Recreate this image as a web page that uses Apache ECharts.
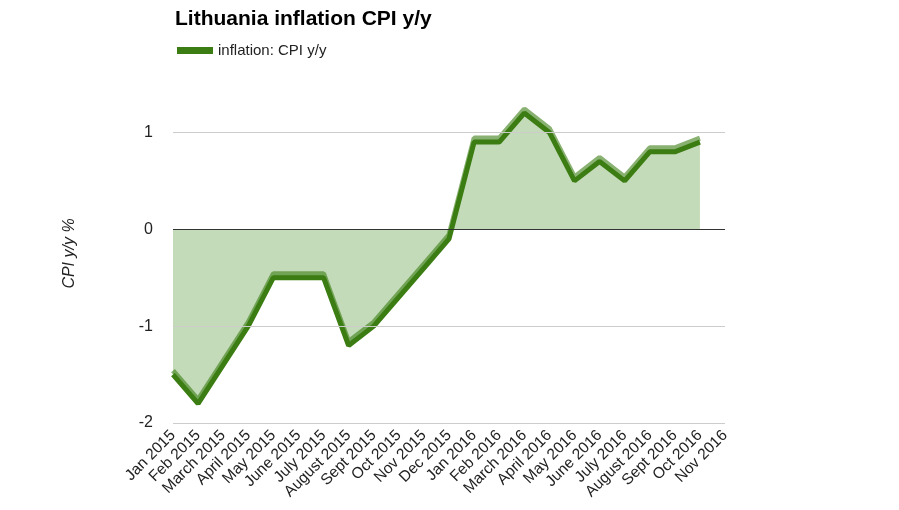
<!DOCTYPE html>
<html><head><meta charset="utf-8">
<script src="https://cdn.jsdelivr.net/npm/echarts@6/dist/echarts.min.js"></script>
<style>body{margin:0;background:#fff}#c{width:899px;height:510px}</style>
</head><body><div id="c"></div>
<script>
const categories = ["Jan 2015","Feb 2015","March 2015","April 2015","May 2015","June 2015","July 2015","August 2015","Sept 2015","Oct 2015","Nov 2015","Dec 2015","Jan 2016","Feb 2016","March 2016","April 2016","May 2016","June 2016","July 2016","August 2016","Sept 2016","Oct 2016","Nov 2016"];
const inflation = [-1.5,-1.8,-1.4,-1.0,-0.5,-0.5,-0.5,-1.2,-1.0,-0.7,-0.4,-0.1,0.9,0.9,1.2,1.0,0.5,0.7,0.5,0.8,0.8,0.9,null];
const gridValues = [-2,-1,1];
const chart = echarts.init(document.getElementById('c'));
chart.setOption({
  animation:false,
  title:{text:'Lithuania inflation CPI y/y',left:170,top:4,textStyle:{fontFamily:'Liberation Sans, Arial',fontSize:21,fontWeight:'bold',color:'#000'}},
  legend:{left:172,top:38,itemWidth:36,itemHeight:7,icon:'rect',textStyle:{fontFamily:'Liberation Sans, Arial',fontSize:15,color:'#222'},data:['inflation: CPI y/y']},
  grid:{left:173,right:174,top:84,bottom:87},
  xAxis:{type:'category',boundaryGap:false,data:categories,
    axisLine:{show:false},axisTick:{show:false},
    axisLabel:{rotate:45,interval:0,fontFamily:'Liberation Sans, Arial',fontSize:15.5,color:'#222',margin:10}},
  yAxis:{type:'value',min:-2,max:1.5,interval:1,
    name:'CPI y/y %',nameLocation:'middle',nameGap:95,nameTextStyle:{fontFamily:'Liberation Sans, Arial',fontSize:16,fontStyle:'italic',color:'#222'},
    axisLine:{show:false},axisTick:{show:false},splitLine:{show:false},
    axisLabel:{fontFamily:'Liberation Sans, Arial',fontSize:16,color:'#222',margin:20,
      formatter:v=> (v===1.5?'':String(v))}},
  series:[{name:'inflation: CPI y/y',type:'line',data:inflation,symbol:'none',
    lineStyle:{color:'#3b7d12',width:5,shadowColor:'rgba(59,125,18,0.6)',shadowOffsetY:-4,shadowBlur:0},
    itemStyle:{color:'#3b7d12'},
    areaStyle:{color:'#c3dbb8',opacity:1,shadowColor:'transparent'},
    markLine:{silent:true,symbol:'none',label:{show:false},
      data:[...gridValues.map(v=>({yAxis:v,lineStyle:{color:'#cccccc',width:1,type:'solid'}})),{yAxis:0,lineStyle:{color:'#333',width:1,type:'solid'}}]},
    z:3}]
});
</script></body></html>
